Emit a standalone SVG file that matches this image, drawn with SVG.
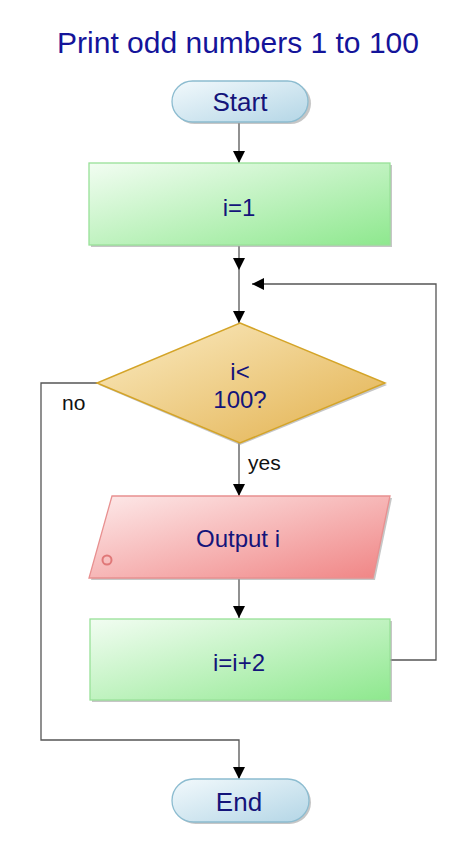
<svg xmlns="http://www.w3.org/2000/svg" width="474" height="861" viewBox="0 0 474 861">
<defs>
<linearGradient id="gBlue" x1="0" y1="0" x2="1" y2="1"><stop offset="0" stop-color="#f2f9fc"/><stop offset="1" stop-color="#b4d6e6"/></linearGradient>
<linearGradient id="gGreen" x1="0" y1="0" x2="1" y2="1"><stop offset="0" stop-color="#f2fdf2"/><stop offset="1" stop-color="#8ee88e"/></linearGradient>
<linearGradient id="gGold" x1="0" y1="0" x2="1" y2="1"><stop offset="0" stop-color="#fbecc4"/><stop offset="1" stop-color="#e2b04c"/></linearGradient>
<linearGradient id="gRed" x1="0" y1="0" x2="1" y2="1"><stop offset="0" stop-color="#fdeaea"/><stop offset="1" stop-color="#f08484"/></linearGradient>
<marker id="arr" viewBox="0 0 12 12" refX="12" refY="6" markerWidth="12" markerHeight="12" markerUnits="userSpaceOnUse" orient="auto"><path d="M0,0 L12,6 L0,12 Z" fill="#000"/></marker>
</defs>
<style>
.t{font-family:"Liberation Sans",Arial,sans-serif;fill:#14147a;text-anchor:middle}
.lbl{font-family:"Liberation Sans",Arial,sans-serif;fill:#111;font-size:21px}
.c{fill:none;stroke:#555;stroke-width:1.3}
.sh{fill:#a0a0a0;opacity:0.6}
</style>
<rect width="474" height="861" fill="#fff"/>
<text class="t" x="238" y="53" font-size="30" style="fill:#14149a">Print odd numbers 1 to 100</text>
<g id="connectors">
<line class="c" x1="239" y1="123" x2="239" y2="163" marker-end="url(#arr)"/>
<line class="c" x1="239" y1="246" x2="239" y2="270" marker-end="url(#arr)"/>
<line class="c" x1="239" y1="270" x2="239" y2="323" marker-end="url(#arr)"/>
<polyline class="c" points="390,660 436,660 436,284 252,284" marker-end="url(#arr)"/>
<line class="c" x1="239" y1="443" x2="239" y2="496" marker-end="url(#arr)"/>
<line class="c" x1="239" y1="579" x2="239" y2="618" marker-end="url(#arr)"/>
<polyline class="c" points="97,383 41,383 41,740 239,740 239,779" marker-end="url(#arr)"/>
<text class="lbl" x="62" y="410">no</text>
<text class="lbl" x="248" y="470">yes</text>
</g>
<g id="start">
<rect class="sh" x="174" y="83" width="137" height="41" rx="20.5"/>
<rect x="172" y="81" width="136" height="41" rx="20.5" fill="url(#gBlue)" stroke="#8cbcd0" stroke-width="1.3"/>
<text class="t" x="240" y="111" font-size="26">Start</text>
</g>
<g id="init">
<rect class="sh" x="91" y="165" width="301" height="82"/>
<rect x="89" y="163" width="301" height="82" fill="url(#gGreen)" stroke="#98e098" stroke-width="1.3"/>
<text class="t" x="239" y="216" font-size="24">i=1</text>
</g>
<g id="decision">
<polygon class="sh" points="240,325 387,385 240,445 99,385"/>
<polygon points="240,323 385,383 240,443 97,383" fill="url(#gGold)" stroke="#d4a428" stroke-width="1.5"/>
<text class="t" x="240" y="380" font-size="24">i&lt;</text>
<text class="t" x="240" y="408" font-size="24">100?</text>
</g>
<g id="output">
<polygon class="sh" points="114,498 392,498 375,580 91,580"/>
<polygon points="112,496 390,496 373,578 89,578" fill="url(#gRed)" stroke="#e89090" stroke-width="1.3"/>
<circle cx="107" cy="560" r="4.5" fill="none" stroke="#e07878" stroke-width="2"/>
<text class="t" x="238" y="547" font-size="24">Output i</text>
</g>
<g id="increment">
<rect class="sh" x="92" y="621" width="300" height="81"/>
<rect x="90" y="619" width="300" height="81" fill="url(#gGreen)" stroke="#98e098" stroke-width="1.3"/>
<text class="t" x="239" y="671" font-size="24">i=i+2</text>
</g>
<g id="end">
<rect class="sh" x="174" y="781" width="137" height="43" rx="21.5"/>
<rect x="172" y="779" width="137" height="43" rx="21.5" fill="url(#gBlue)" stroke="#8cbcd0" stroke-width="1.3"/>
<text class="t" x="239" y="811" font-size="26">End</text>
</g>
</svg>
